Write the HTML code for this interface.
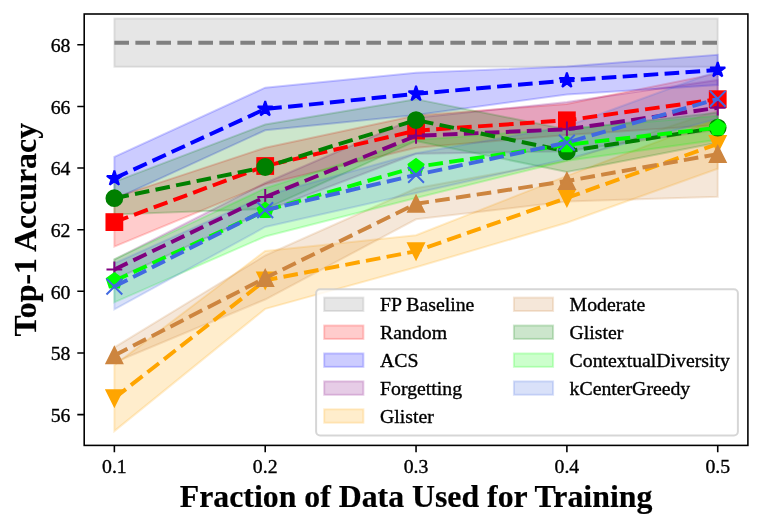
<!DOCTYPE html><html><head><meta charset="utf-8"><title>Top-1 Accuracy vs Fraction of Data</title><style>html,body{margin:0;padding:0;background:#fff;overflow:hidden}svg{display:block}text{font-family:"Liberation Serif","Times New Roman",serif;fill:#000;stroke:#000;stroke-width:0.35px}text.b{stroke-width:0.2px}</style></head><body>
<svg width="762" height="528" viewBox="0 0 762 528">
<defs><clipPath id="ax"><rect x="84.2" y="14.0" width="663.70" height="431.40"/></clipPath></defs>
<rect width="762" height="528" fill="#fff"/>
<g clip-path="url(#ax)">
<path d="M114.37,18.47L265.21,18.47L416.05,18.47L566.89,18.47L717.73,18.47L717.73,66.85L566.89,66.85L416.05,66.85L265.21,66.85L114.37,66.85Z" fill="rgba(128,128,128,0.2)" stroke="rgba(128,128,128,0.2)" stroke-width="1.98" stroke-linejoin="miter"/>
<path d="M114.37,197.60L265.21,147.70L416.05,115.50L566.89,104.00L717.73,73.40L717.73,125.00L566.89,135.00L416.05,147.80L265.21,184.30L114.37,246.60Z" fill="rgba(255,0,0,0.2)" stroke="rgba(255,0,0,0.2)" stroke-width="1.98" stroke-linejoin="miter"/>
<path d="M114.37,156.90L265.21,87.70L416.05,72.80L566.89,66.50L717.73,54.80L717.73,85.00L566.89,94.50L416.05,115.00L265.21,130.30L114.37,199.50Z" fill="rgba(0,0,255,0.2)" stroke="rgba(0,0,255,0.2)" stroke-width="1.98" stroke-linejoin="miter"/>
<path d="M114.37,259.50L265.21,183.00L416.05,117.80L566.89,102.00L717.73,80.00L717.73,129.70L566.89,151.30L416.05,153.80L265.21,211.00L114.37,279.50Z" fill="rgba(128,0,128,0.2)" stroke="rgba(128,0,128,0.2)" stroke-width="1.98" stroke-linejoin="miter"/>
<path d="M114.37,365.10L265.21,250.90L416.05,235.20L566.89,175.80L717.73,119.00L717.73,168.80L566.89,222.80L416.05,267.20L265.21,308.90L114.37,431.10Z" fill="rgba(255,165,0,0.2)" stroke="rgba(255,165,0,0.2)" stroke-width="1.98" stroke-linejoin="miter"/>
<path d="M114.37,347.40L265.21,255.50L416.05,188.30L566.89,160.50L717.73,110.60L717.73,196.70L566.89,201.50L416.05,219.30L265.21,299.50L114.37,362.40Z" fill="rgba(205,133,63,0.2)" stroke="rgba(205,133,63,0.2)" stroke-width="1.98" stroke-linejoin="miter"/>
<path d="M114.37,181.90L265.21,124.50L416.05,99.15L566.89,129.40L717.73,112.60L717.73,142.60L566.89,172.00L416.05,140.95L265.21,209.00L114.37,214.50Z" fill="rgba(0,128,0,0.2)" stroke="rgba(0,128,0,0.2)" stroke-width="1.98" stroke-linejoin="miter"/>
<path d="M114.37,259.30L265.21,188.20L416.05,139.90L566.89,128.80L717.73,115.80L717.73,139.80L566.89,160.80L416.05,198.00L265.21,236.50L114.37,302.30Z" fill="rgba(0,255,0,0.2)" stroke="rgba(0,255,0,0.2)" stroke-width="1.98" stroke-linejoin="miter"/>
<path d="M114.37,263.40L265.21,195.70L416.05,153.30L566.89,126.20L717.73,71.00L717.73,118.80L566.89,159.00L416.05,193.00L265.21,227.00L114.37,309.40Z" fill="rgba(65,105,225,0.2)" stroke="rgba(65,105,225,0.2)" stroke-width="1.98" stroke-linejoin="miter"/>
<path d="M114.37,42.66L265.21,42.66L416.05,42.66L566.89,42.66L717.73,42.66" fill="none" stroke="rgba(128,128,128,1.0)" stroke-width="3.95" stroke-dasharray="14.66,6.34" stroke-linejoin="round" stroke-linecap="butt"/>
<path d="M114.37,222.10L265.21,166.00L416.05,130.60L566.89,120.30L717.73,99.20" fill="none" stroke="rgba(255,0,0,1.0)" stroke-width="3.95" stroke-dasharray="14.66,6.34" stroke-linejoin="round" stroke-linecap="butt"/>
<rect x="106.47" y="214.20" width="15.80" height="15.80" fill="rgba(255,0,0,1.0)" stroke="rgba(255,0,0,1.0)" stroke-width="1.98" stroke-linejoin="miter"/>
<rect x="257.31" y="158.10" width="15.80" height="15.80" fill="rgba(255,0,0,1.0)" stroke="rgba(255,0,0,1.0)" stroke-width="1.98" stroke-linejoin="miter"/>
<rect x="408.15" y="122.70" width="15.80" height="15.80" fill="rgba(255,0,0,1.0)" stroke="rgba(255,0,0,1.0)" stroke-width="1.98" stroke-linejoin="miter"/>
<rect x="558.99" y="112.40" width="15.80" height="15.80" fill="rgba(255,0,0,1.0)" stroke="rgba(255,0,0,1.0)" stroke-width="1.98" stroke-linejoin="miter"/>
<rect x="709.83" y="91.30" width="15.80" height="15.80" fill="rgba(255,0,0,1.0)" stroke="rgba(255,0,0,1.0)" stroke-width="1.98" stroke-linejoin="miter"/>
<path d="M114.37,178.40L265.21,109.00L416.05,93.80L566.89,80.50L717.73,70.00" fill="none" stroke="rgba(0,0,255,1.0)" stroke-width="3.95" stroke-dasharray="14.66,6.34" stroke-linejoin="round" stroke-linecap="butt"/>
<path d="M114.37,170.50L116.14,175.96L121.88,175.96L117.24,179.33L119.01,184.79L114.37,181.42L109.72,184.79L111.50,179.33L106.85,175.96L112.59,175.96Z" fill="rgba(0,0,255,1.0)" stroke="rgba(0,0,255,1.0)" stroke-width="1.98" stroke-linejoin="bevel"/>
<path d="M265.21,101.10L266.98,106.56L272.72,106.56L268.08,109.93L269.85,115.39L265.21,112.02L260.57,115.39L262.34,109.93L257.70,106.56L263.44,106.56Z" fill="rgba(0,0,255,1.0)" stroke="rgba(0,0,255,1.0)" stroke-width="1.98" stroke-linejoin="bevel"/>
<path d="M416.05,85.90L417.82,91.36L423.56,91.36L418.92,94.73L420.69,100.19L416.05,96.82L411.41,100.19L413.18,94.73L408.54,91.36L414.28,91.36Z" fill="rgba(0,0,255,1.0)" stroke="rgba(0,0,255,1.0)" stroke-width="1.98" stroke-linejoin="bevel"/>
<path d="M566.89,72.60L568.66,78.06L574.40,78.06L569.76,81.43L571.53,86.89L566.89,83.52L562.25,86.89L564.02,81.43L559.38,78.06L565.12,78.06Z" fill="rgba(0,0,255,1.0)" stroke="rgba(0,0,255,1.0)" stroke-width="1.98" stroke-linejoin="bevel"/>
<path d="M717.73,62.10L719.51,67.56L725.25,67.56L720.60,70.93L722.38,76.39L717.73,73.02L713.09,76.39L714.86,70.93L710.22,67.56L715.96,67.56Z" fill="rgba(0,0,255,1.0)" stroke="rgba(0,0,255,1.0)" stroke-width="1.98" stroke-linejoin="bevel"/>
<path d="M114.37,269.50L265.21,197.00L416.05,135.80L566.89,129.30L717.73,107.70" fill="none" stroke="rgba(128,0,128,1.0)" stroke-width="3.95" stroke-dasharray="14.66,6.34" stroke-linejoin="round" stroke-linecap="butt"/>
<path d="M106.47,269.50H122.27M114.37,261.60V277.40" stroke="rgba(128,0,128,1.0)" stroke-width="1.98" fill="none"/>
<path d="M257.31,197.00H273.11M265.21,189.10V204.90" stroke="rgba(128,0,128,1.0)" stroke-width="1.98" fill="none"/>
<path d="M408.15,135.80H423.95M416.05,127.90V143.70" stroke="rgba(128,0,128,1.0)" stroke-width="1.98" fill="none"/>
<path d="M558.99,129.30H574.79M566.89,121.40V137.20" stroke="rgba(128,0,128,1.0)" stroke-width="1.98" fill="none"/>
<path d="M709.83,107.70H725.63M717.73,99.80V115.60" stroke="rgba(128,0,128,1.0)" stroke-width="1.98" fill="none"/>
<path d="M114.37,398.10L265.21,280.30L416.05,251.20L566.89,197.90L717.73,143.90" fill="none" stroke="rgba(255,165,0,1.0)" stroke-width="3.95" stroke-dasharray="14.66,6.34" stroke-linejoin="round" stroke-linecap="butt"/>
<path d="M114.37,406.00L106.47,390.20L122.27,390.20Z" fill="rgba(255,165,0,1.0)" stroke="rgba(255,165,0,1.0)" stroke-width="1.98" stroke-linejoin="miter"/>
<path d="M265.21,288.20L257.31,272.40L273.11,272.40Z" fill="rgba(255,165,0,1.0)" stroke="rgba(255,165,0,1.0)" stroke-width="1.98" stroke-linejoin="miter"/>
<path d="M416.05,259.10L408.15,243.30L423.95,243.30Z" fill="rgba(255,165,0,1.0)" stroke="rgba(255,165,0,1.0)" stroke-width="1.98" stroke-linejoin="miter"/>
<path d="M566.89,205.80L558.99,190.00L574.79,190.00Z" fill="rgba(255,165,0,1.0)" stroke="rgba(255,165,0,1.0)" stroke-width="1.98" stroke-linejoin="miter"/>
<path d="M717.73,151.80L709.83,136.00L725.63,136.00Z" fill="rgba(255,165,0,1.0)" stroke="rgba(255,165,0,1.0)" stroke-width="1.98" stroke-linejoin="miter"/>
<path d="M114.37,355.40L265.21,278.00L416.05,203.80L566.89,181.00L717.73,154.10" fill="none" stroke="rgba(205,133,63,1.0)" stroke-width="3.95" stroke-dasharray="14.66,6.34" stroke-linejoin="round" stroke-linecap="butt"/>
<path d="M114.37,347.50L106.47,363.30L122.27,363.30Z" fill="rgba(205,133,63,1.0)" stroke="rgba(205,133,63,1.0)" stroke-width="1.98" stroke-linejoin="miter"/>
<path d="M265.21,270.10L257.31,285.90L273.11,285.90Z" fill="rgba(205,133,63,1.0)" stroke="rgba(205,133,63,1.0)" stroke-width="1.98" stroke-linejoin="miter"/>
<path d="M416.05,195.90L408.15,211.70L423.95,211.70Z" fill="rgba(205,133,63,1.0)" stroke="rgba(205,133,63,1.0)" stroke-width="1.98" stroke-linejoin="miter"/>
<path d="M566.89,173.10L558.99,188.90L574.79,188.90Z" fill="rgba(205,133,63,1.0)" stroke="rgba(205,133,63,1.0)" stroke-width="1.98" stroke-linejoin="miter"/>
<path d="M717.73,146.20L709.83,162.00L725.63,162.00Z" fill="rgba(205,133,63,1.0)" stroke="rgba(205,133,63,1.0)" stroke-width="1.98" stroke-linejoin="miter"/>
<path d="M114.37,198.20L265.21,167.00L416.05,120.05L566.89,151.40L717.73,127.60" fill="none" stroke="rgba(0,128,0,1.0)" stroke-width="3.95" stroke-dasharray="14.66,6.34" stroke-linejoin="round" stroke-linecap="butt"/>
<circle cx="114.37" cy="198.20" r="7.90" fill="rgba(0,128,0,1.0)" stroke="rgba(0,128,0,1.0)" stroke-width="1.98"/>
<circle cx="265.21" cy="167.00" r="7.90" fill="rgba(0,128,0,1.0)" stroke="rgba(0,128,0,1.0)" stroke-width="1.98"/>
<circle cx="416.05" cy="120.05" r="7.90" fill="rgba(0,128,0,1.0)" stroke="rgba(0,128,0,1.0)" stroke-width="1.98"/>
<circle cx="566.89" cy="151.40" r="7.90" fill="rgba(0,128,0,1.0)" stroke="rgba(0,128,0,1.0)" stroke-width="1.98"/>
<circle cx="717.73" cy="127.60" r="7.90" fill="rgba(0,128,0,1.0)" stroke="rgba(0,128,0,1.0)" stroke-width="1.98"/>
<path d="M114.37,281.00L265.21,210.70L416.05,166.90L566.89,144.80L717.73,127.80" fill="none" stroke="rgba(0,255,0,1.0)" stroke-width="3.95" stroke-dasharray="14.66,6.34" stroke-linejoin="round" stroke-linecap="butt"/>
<path d="M114.37,273.10L121.88,278.56L119.01,287.39L109.72,287.39L106.85,278.56Z" fill="rgba(0,255,0,1.0)" stroke="rgba(0,255,0,1.0)" stroke-width="1.98" stroke-linejoin="miter"/>
<path d="M265.21,202.80L272.72,208.26L269.85,217.09L260.57,217.09L257.70,208.26Z" fill="rgba(0,255,0,1.0)" stroke="rgba(0,255,0,1.0)" stroke-width="1.98" stroke-linejoin="miter"/>
<path d="M416.05,159.00L423.56,164.46L420.69,173.29L411.41,173.29L408.54,164.46Z" fill="rgba(0,255,0,1.0)" stroke="rgba(0,255,0,1.0)" stroke-width="1.98" stroke-linejoin="miter"/>
<path d="M566.89,136.90L574.40,142.36L571.53,151.19L562.25,151.19L559.38,142.36Z" fill="rgba(0,255,0,1.0)" stroke="rgba(0,255,0,1.0)" stroke-width="1.98" stroke-linejoin="miter"/>
<path d="M717.73,119.90L725.25,125.36L722.38,134.19L713.09,134.19L710.22,125.36Z" fill="rgba(0,255,0,1.0)" stroke="rgba(0,255,0,1.0)" stroke-width="1.98" stroke-linejoin="miter"/>
<path d="M114.37,286.60L265.21,210.10L416.05,174.90L566.89,142.60L717.73,98.80" fill="none" stroke="rgba(65,105,225,1.0)" stroke-width="3.95" stroke-dasharray="14.66,6.34" stroke-linejoin="round" stroke-linecap="butt"/>
<path d="M106.47,278.70L122.27,294.50M106.47,294.50L122.27,278.70" stroke="rgba(65,105,225,1.0)" stroke-width="1.98" fill="none"/>
<path d="M257.31,202.20L273.11,218.00M257.31,218.00L273.11,202.20" stroke="rgba(65,105,225,1.0)" stroke-width="1.98" fill="none"/>
<path d="M408.15,167.00L423.95,182.80M408.15,182.80L423.95,167.00" stroke="rgba(65,105,225,1.0)" stroke-width="1.98" fill="none"/>
<path d="M558.99,134.70L574.79,150.50M558.99,150.50L574.79,134.70" stroke="rgba(65,105,225,1.0)" stroke-width="1.98" fill="none"/>
<path d="M709.83,90.90L725.63,106.70M709.83,106.70L725.63,90.90" stroke="rgba(65,105,225,1.0)" stroke-width="1.98" fill="none"/>
</g>
<rect x="84.2" y="14.0" width="663.70" height="431.40" fill="none" stroke="#000" stroke-width="1.58" stroke-linejoin="miter"/>
<path d="M114.37,445.40V452.31M265.21,445.40V452.31M416.05,445.40V452.31M566.89,445.40V452.31M717.73,445.40V452.31M84.20,414.59H77.29M84.20,352.96H77.29M84.20,291.33H77.29M84.20,229.70H77.29M84.20,168.07H77.29M84.20,106.44H77.29M84.20,44.81H77.29" stroke="#000" stroke-width="1.58" fill="none"/>
<text x="114.37" y="472.8" font-size="19.75" text-anchor="middle">0.1</text>
<text x="265.21" y="472.8" font-size="19.75" text-anchor="middle">0.2</text>
<text x="416.05" y="472.8" font-size="19.75" text-anchor="middle">0.3</text>
<text x="566.89" y="472.8" font-size="19.75" text-anchor="middle">0.4</text>
<text x="717.73" y="472.8" font-size="19.75" text-anchor="middle">0.5</text>
<text x="70.38" y="421.89" font-size="19.75" text-anchor="end">56</text>
<text x="70.38" y="360.26" font-size="19.75" text-anchor="end">58</text>
<text x="70.38" y="298.63" font-size="19.75" text-anchor="end">60</text>
<text x="70.38" y="237.00" font-size="19.75" text-anchor="end">62</text>
<text x="70.38" y="175.37" font-size="19.75" text-anchor="end">64</text>
<text x="70.38" y="113.74" font-size="19.75" text-anchor="end">66</text>
<text x="70.38" y="52.11" font-size="19.75" text-anchor="end">68</text>
<text x="416.05" y="507.0" font-size="31.80" font-weight="bold" class="b" text-anchor="middle">Fraction of Data Used for Training</text>
<text transform="translate(35.7,229.70) rotate(-90)" x="0" y="0" font-size="31.80" font-weight="bold" class="b" text-anchor="middle">Top-1 Accuracy</text>
<rect x="316.1" y="289.2" width="421.80" height="146.20" rx="4" ry="4" fill="rgba(255,255,255,0.8)" stroke="rgba(204,204,204,0.8)" stroke-width="1.98"/>
<rect x="324.20" y="297.60" width="39.2" height="13.4" fill="rgba(128,128,128,0.2)" stroke="rgba(128,128,128,0.2)" stroke-width="1.98"/>
<text x="380.10" y="311.40" font-size="19.75">FP Baseline</text>
<rect x="324.20" y="325.53" width="39.2" height="13.4" fill="rgba(255,0,0,0.2)" stroke="rgba(255,0,0,0.2)" stroke-width="1.98"/>
<text x="380.10" y="339.33" font-size="19.75">Random</text>
<rect x="324.20" y="353.46" width="39.2" height="13.4" fill="rgba(0,0,255,0.2)" stroke="rgba(0,0,255,0.2)" stroke-width="1.98"/>
<text x="380.10" y="367.26" font-size="19.75">ACS</text>
<rect x="324.20" y="381.39" width="39.2" height="13.4" fill="rgba(128,0,128,0.2)" stroke="rgba(128,0,128,0.2)" stroke-width="1.98"/>
<text x="380.10" y="395.19" font-size="19.75">Forgetting</text>
<rect x="324.20" y="409.32" width="39.2" height="13.4" fill="rgba(255,165,0,0.2)" stroke="rgba(255,165,0,0.2)" stroke-width="1.98"/>
<text x="380.10" y="423.12" font-size="19.75">Glister</text>
<rect x="513.90" y="297.60" width="39.2" height="13.4" fill="rgba(205,133,63,0.2)" stroke="rgba(205,133,63,0.2)" stroke-width="1.98"/>
<text x="569.60" y="311.40" font-size="19.75">Moderate</text>
<rect x="513.90" y="325.53" width="39.2" height="13.4" fill="rgba(0,128,0,0.2)" stroke="rgba(0,128,0,0.2)" stroke-width="1.98"/>
<text x="569.60" y="339.33" font-size="19.75">Glister</text>
<rect x="513.90" y="353.46" width="39.2" height="13.4" fill="rgba(0,255,0,0.2)" stroke="rgba(0,255,0,0.2)" stroke-width="1.98"/>
<text x="569.60" y="367.26" font-size="19.75">ContextualDiversity</text>
<rect x="513.90" y="381.39" width="39.2" height="13.4" fill="rgba(65,105,225,0.2)" stroke="rgba(65,105,225,0.2)" stroke-width="1.98"/>
<text x="569.60" y="395.19" font-size="19.75">kCenterGreedy</text>
</svg></body></html>
